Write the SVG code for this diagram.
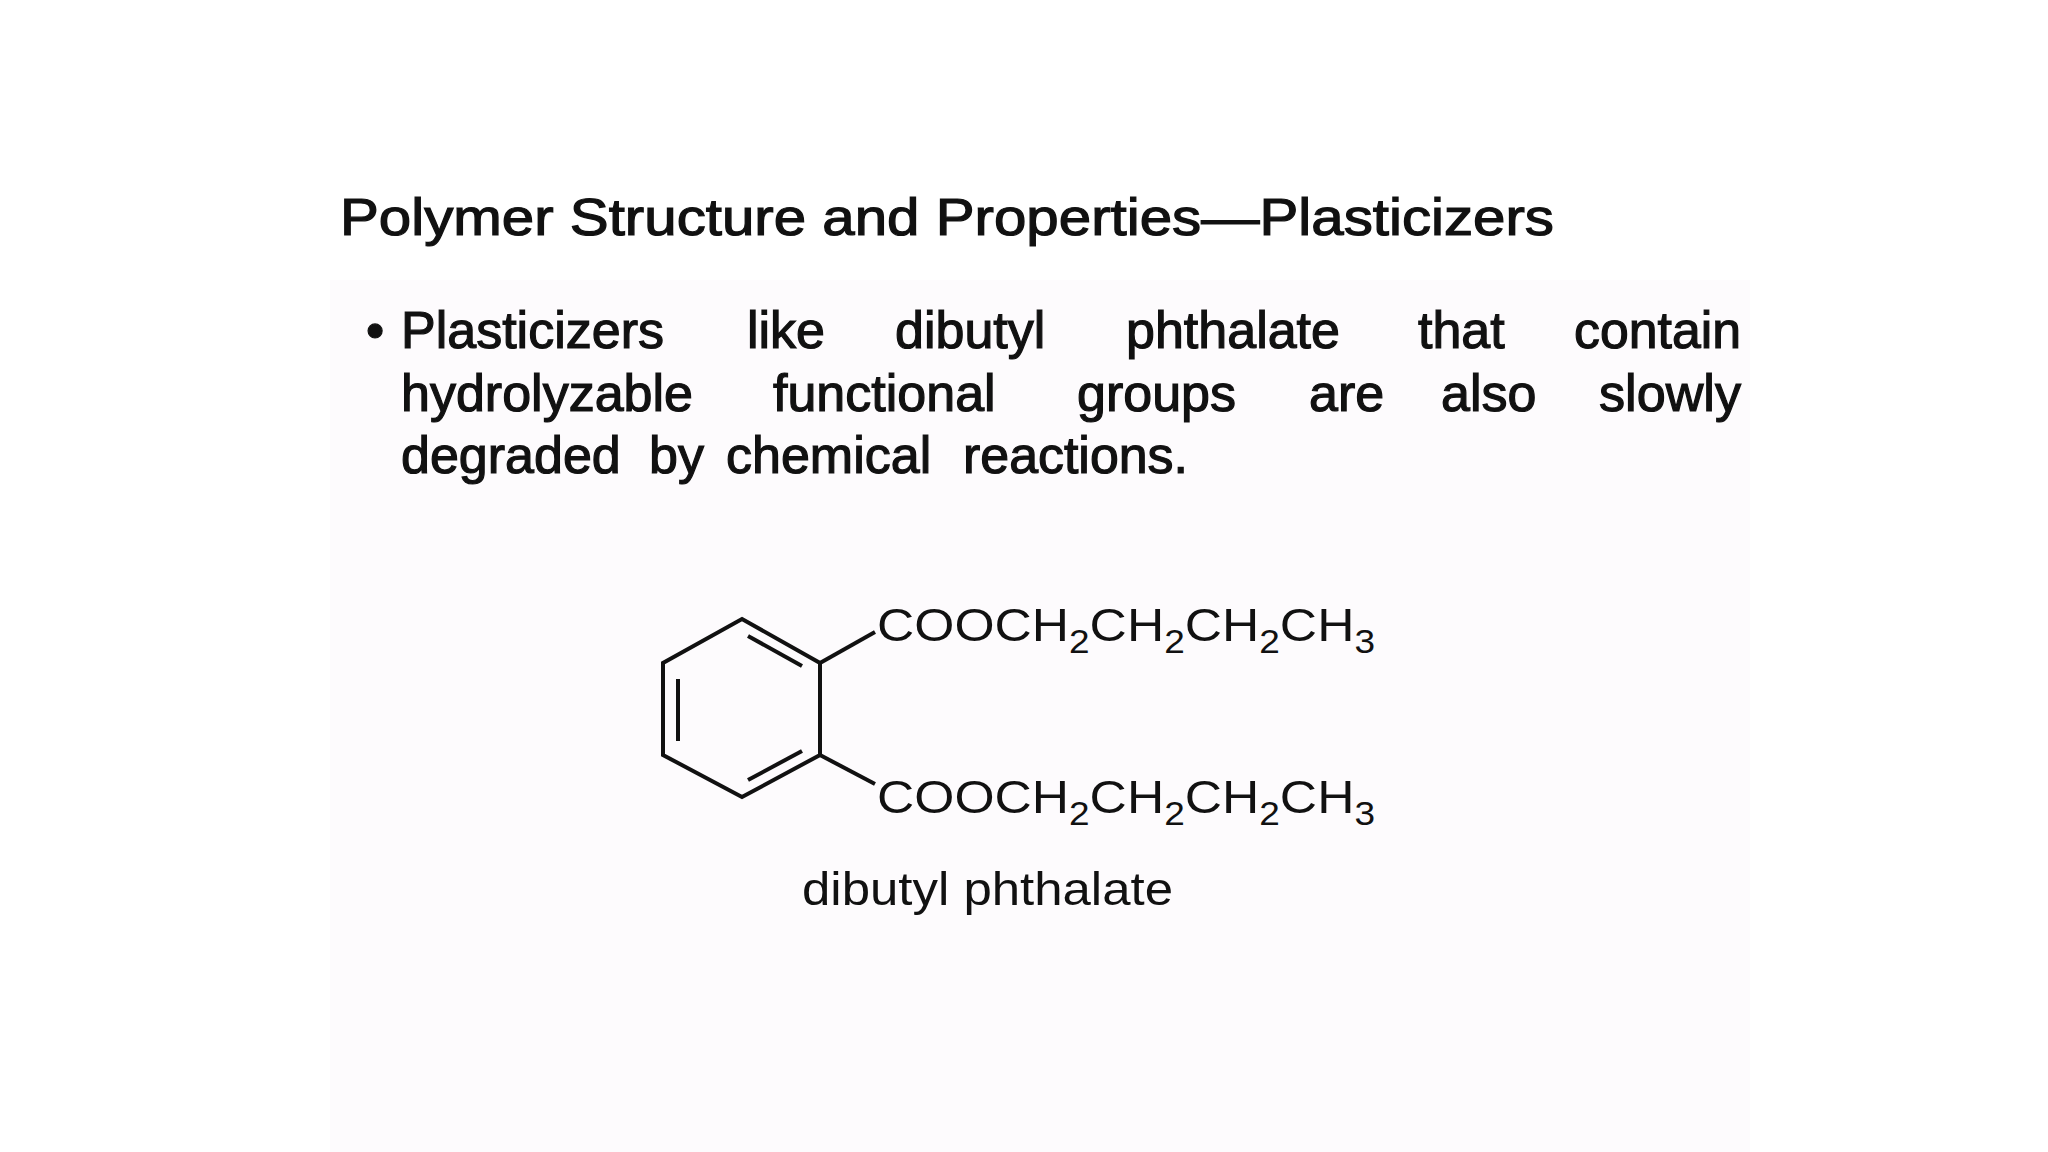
<svg xmlns="http://www.w3.org/2000/svg" width="2048" height="1152" viewBox="0 0 2048 1152">
<style>
text{font-family:"Liberation Sans",Arial,sans-serif;fill:#111}
.t{font-size:52px;stroke:#111;stroke-width:1.2}
.b{font-size:52px;stroke:#111;stroke-width:1.2}
.f{font-size:46px}
.s{font-size:33px}
.bond{stroke:#111;stroke-width:4;fill:none;stroke-linejoin:miter}
</style>
<rect width="2048" height="1152" fill="#ffffff"/>
<rect x="330" y="280" width="1420" height="872" fill="#fdfbfd"/>
<g id="title"><text class="t" x="340" y="235" textLength="1214" lengthAdjust="spacingAndGlyphs">Polymer  Structure  and  Properties—Plasticizers</text></g>
<g id="bullet">
<text class="b" x="366" y="348">•</text>
<text class="b" x="401" y="348" textLength="263" lengthAdjust="spacingAndGlyphs">Plasticizers</text><text class="b" x="747" y="348">like</text><text class="b" x="895" y="348">dibutyl</text><text class="b" x="1126" y="348">phthalate</text><text class="b" x="1418" y="348">that</text><text class="b" x="1574" y="348" textLength="167" lengthAdjust="spacingAndGlyphs">contain</text>
<text class="b" x="401" y="411">hydrolyzable</text><text class="b" x="773" y="411">functional</text><text class="b" x="1077" y="411">groups</text><text class="b" x="1309" y="411">are</text><text class="b" x="1441" y="411">also</text><text class="b" x="1599" y="411" textLength="142" lengthAdjust="spacingAndGlyphs">slowly</text>
<text class="b" x="401" y="473">degraded</text><text class="b" x="649" y="473">by</text><text class="b" x="726" y="473">chemical</text><text class="b" x="963" y="473" textLength="225" lengthAdjust="spacingAndGlyphs">reactions.</text>
</g>
<g id="ring">
<polygon class="bond" points="742,619 820,663 820,755 742,797 663,755 663,663"/>
<line class="bond" x1="748" y1="636" x2="802" y2="666"/>
<line class="bond" x1="748" y1="780" x2="802" y2="751"/>
<line class="bond" x1="678" y1="679" x2="678" y2="741"/>
</g>
<g id="connectors">
<line class="bond" x1="820" y1="663" x2="875" y2="632"/>
<line class="bond" x1="820" y1="755" x2="875" y2="784"/>
</g>
<g id="chain-top"><text class="f" x="877" y="641" textLength="498" lengthAdjust="spacingAndGlyphs">COOCH<tspan class="s" dy="12">2</tspan><tspan dy="-12">CH</tspan><tspan class="s" dy="12">2</tspan><tspan dy="-12">CH</tspan><tspan class="s" dy="12">2</tspan><tspan dy="-12">CH</tspan><tspan class="s" dy="12">3</tspan></text></g>
<g id="chain-bottom"><text class="f" x="877" y="813" textLength="498" lengthAdjust="spacingAndGlyphs">COOCH<tspan class="s" dy="12">2</tspan><tspan dy="-12">CH</tspan><tspan class="s" dy="12">2</tspan><tspan dy="-12">CH</tspan><tspan class="s" dy="12">2</tspan><tspan dy="-12">CH</tspan><tspan class="s" dy="12">3</tspan></text></g>
<g id="label"><text class="f" x="802" y="905" textLength="371" lengthAdjust="spacingAndGlyphs">dibutyl phthalate</text></g>
</svg>
